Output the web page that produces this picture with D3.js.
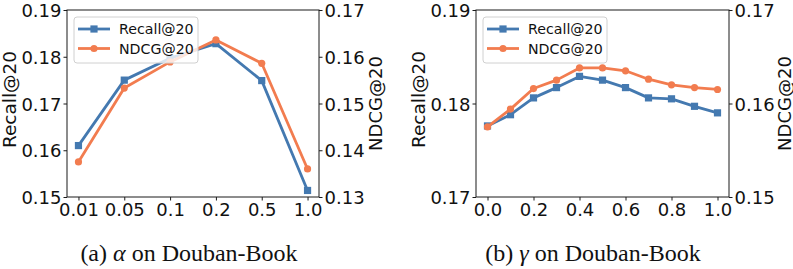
<!DOCTYPE html>
<html><head><meta charset="utf-8">
<script src="https://cdn.jsdelivr.net/npm/d3@7"></script>
<style>html,body{margin:0;padding:0;background:#fff;}svg{display:block;}</style>
</head><body>
<svg id="c" width="793" height="269"></svg>
<script>
// ---- data ----
const alphaCats = ["0.01", "0.05", "0.1", "0.2", "0.5", "1.0"];
const alphaRecall = [0.1610, 0.1750, 0.1797, 0.1828, 0.1749, 0.1514];
const alphaNdcg = [0.1375, 0.1533, 0.1589, 0.1636, 0.1586, 0.1360];

const gammaX = [0.0, 0.1, 0.2, 0.3, 0.4, 0.5, 0.6, 0.7, 0.8, 0.9, 1.0];
const gammaRecall = [0.1776, 0.1788, 0.1806, 0.1817, 0.1829, 0.1825, 0.1817, 0.1806, 0.1805, 0.1797, 0.1790];
const gammaNdcg = [0.1575, 0.1594, 0.1616, 0.1625, 0.1638, 0.1638, 0.1635, 0.1626, 0.1620, 0.1617, 0.1615];
const gammaTicks = [0.0, 0.2, 0.4, 0.6, 0.8, 1.0];

const alphaRecallTicks = [0.15, 0.16, 0.17, 0.18, 0.19];
const alphaNdcgTicks = [0.13, 0.14, 0.15, 0.16, 0.17];
const gammaRecallTicks = [0.17, 0.18, 0.19];
const gammaNdcgTicks = [0.15, 0.16, 0.17];

const seriesNames = ["Recall@20", "NDCG@20"];
const captions = [["(a)  ", "α", " on Douban-Book"], ["(b)  ", "γ", " on Douban-Book"]];

// ---- style ----
const BLUE = "#4479b0", ORANGE = "#f27c4f", AX = "#1a1a1a";
const FONT = "DejaVu Sans";
const svg = d3.select("#c");

function panel(o) {
  const g = svg.append("g");
  const top = 10, bottom = 197;
  const yL = d3.scaleLinear().domain(o.yLdom).range([bottom, top]);
  const yR = d3.scaleLinear().domain(o.yRdom).range([bottom, top]);
  const x = o.x;
  const [x0, x1] = o.xr;

  const styleAxis = (sel) => {
    sel.selectAll("path").attr("stroke", AX).attr("stroke-width", 1);
    sel.selectAll("line").attr("stroke", AX).attr("stroke-width", 1);
    sel.selectAll("text").attr("font-family", FONT).attr("font-size", 18).attr("fill", "#111");
  };
  const xAxis = d3.axisBottom(x).tickSizeOuter(0).tickSize(3.5).tickPadding(2);
  if (o.xTicks) xAxis.tickValues(o.xTicks).tickFormat(d3.format(".1f"));
  g.append("g").attr("transform", `translate(0,${bottom})`).call(xAxis).call(styleAxis)
    .call(s => s.select(".domain").remove());
  g.append("g").attr("transform", `translate(${x0},0)`)
    .call(d3.axisLeft(yL).tickValues(o.yLticks).tickFormat(d3.format(".2f")).tickSizeOuter(0).tickSize(3.5).tickPadding(2))
    .call(styleAxis).call(s => s.select(".domain").remove());
  g.append("g").attr("transform", `translate(${x1},0)`)
    .call(d3.axisRight(yR).tickValues(o.yRticks).tickFormat(d3.format(".2f")).tickSizeOuter(0).tickSize(3.5).tickPadding(2))
    .call(styleAxis).call(s => s.select(".domain").remove());
  g.selectAll(".tick text").attr("dy", null);
  g.selectAll(".tick text").each(function() {
    const t = d3.select(this);
    if (t.attr("y") && +t.attr("y") > 0) t.attr("dominant-baseline", "hanging");
    else t.attr("dominant-baseline", "central");
  });

  // frame
  g.append("rect").attr("x", x0).attr("y", top).attr("width", x1 - x0).attr("height", bottom - top)
    .attr("fill", "none").attr("stroke", AX).attr("stroke-width", 1);

  // axis labels
  g.append("text").attr("transform", `translate(${o.lblL},${(top + bottom) / 2 - 4}) rotate(-90)`)
    .attr("text-anchor", "middle").attr("dominant-baseline", "central")
    .attr("font-family", FONT).attr("font-size", 18.5).attr("fill", "#111").text(seriesNames[0]);
  g.append("text").attr("transform", `translate(${o.lblR},${(top + bottom) / 2}) rotate(-90)`)
    .attr("text-anchor", "middle").attr("dominant-baseline", "central")
    .attr("font-family", FONT).attr("font-size", 18).attr("fill", "#111").text(seriesNames[1]);

  // series
  const draw = (vals, y, color, shape) => {
    const pts = o.xs.map((d, i) => [x(d), y(vals[i])]);
    g.append("path").attr("d", d3.line()(pts)).attr("fill", "none")
      .attr("stroke", color).attr("stroke-width", 2.8).attr("stroke-linejoin", "round");
    pts.forEach(p => {
      if (shape === "sq") g.append("rect").attr("x", p[0] - 3.6).attr("y", p[1] - 3.6).attr("width", 7.2).attr("height", 7.2).attr("fill", color);
      else g.append("circle").attr("cx", p[0]).attr("cy", p[1]).attr("r", 3.6).attr("fill", color);
    });
  };
  draw(o.recall, yL, BLUE, "sq");
  draw(o.ndcg, yR, ORANGE, "ci");

  // legend
  const lx = o.legX, ly = 17;
  g.append("rect").attr("x", lx).attr("y", ly).attr("width", 124).attr("height", 46).attr("rx", 3)
    .attr("fill", "#fff").attr("fill-opacity", 0.8).attr("stroke", "#d0d0d0").attr("stroke-width", 1);
  [[BLUE, "sq"], [ORANGE, "ci"]].forEach((s, i) => {
    const yy = ly + 12 + i * 19.5;
    g.append("line").attr("x1", lx + 4).attr("x2", lx + 36).attr("y1", yy).attr("y2", yy)
      .attr("stroke", s[0]).attr("stroke-width", 2.8);
    if (s[1] === "sq") g.append("rect").attr("x", lx + 20 - 3.6).attr("y", yy - 3.6).attr("width", 7.2).attr("height", 7.2).attr("fill", s[0]);
    else g.append("circle").attr("cx", lx + 20).attr("cy", yy).attr("r", 3.6).attr("fill", s[0]);
    g.append("text").attr("x", lx + 45).attr("y", yy).attr("dominant-baseline", "central")
      .attr("font-family", FONT).attr("font-size", 14.2).attr("fill", "#111").text(seriesNames[i]);
  });

  // caption
  const cap = g.append("text").attr("x", o.capX).attr("y", 261).attr("text-anchor", "middle")
    .attr("font-family", "Liberation Serif").attr("font-size", 24).attr("fill", "#111");
  cap.append("tspan").text(o.cap[0]);
  cap.append("tspan").attr("font-style", "italic").text(o.cap[1]);
  cap.append("tspan").text(o.cap[2]);
}

panel({
  x: d3.scalePoint().domain(alphaCats).range([67, 319]).padding(0.25),
  xr: [67, 319], xs: alphaCats,
  yLdom: [0.15, 0.19], yRdom: [0.13, 0.17], yLticks: alphaRecallTicks, yRticks: alphaNdcgTicks,
  recall: alphaRecall, ndcg: alphaNdcg, lblL: 9, lblR: 375, legX: 74, capX: 189, cap: captions[0]
});
panel({
  x: d3.scaleLinear().domain([-0.05, 1.05]).range([476, 729]), xTicks: gammaTicks,
  xr: [476, 729], xs: gammaX,
  yLdom: [0.17, 0.19], yRdom: [0.15, 0.17], yLticks: gammaRecallTicks, yRticks: gammaNdcgTicks,
  recall: gammaRecall, ndcg: gammaNdcg, lblL: 418, lblR: 784, legX: 483, capX: 593, cap: captions[1]
});
</script>
</body></html>
